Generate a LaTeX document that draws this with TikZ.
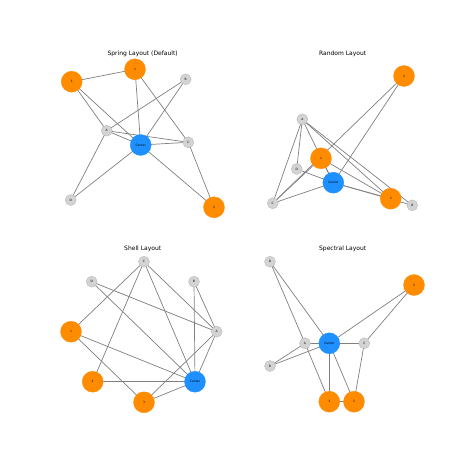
\documentclass[tikz,border=0pt]{standalone}
\usepackage{fontspec}
\setmainfont{DejaVu Sans}
\definecolor{cblue}{HTML}{1E90FF}
\definecolor{corange}{HTML}{FF8C00}
\definecolor{cgray}{HTML}{D3D3D3}
\definecolor{cedge}{HTML}{808080}
\pgfdeclarelayer{bg}
\pgfdeclarelayer{edges}
\pgfsetlayers{bg,edges,main}
\begin{document}
\begin{tikzpicture}[x=1pt,y=-1pt,
  gnode/.style={circle,fill=cgray,draw=cgray!85!black,line width=0.3pt,minimum size=11pt,inner sep=0pt,font=\fontsize{3}{3}\selectfont},
  onode/.style={circle,fill=corange,draw=corange,line width=0.3pt,minimum size=21pt,inner sep=0pt,font=\fontsize{3}{3}\selectfont},
  bnode/.style={circle,fill=cblue,draw=cblue,line width=0.3pt,minimum size=21pt,inner sep=0pt,font=\fontsize{3}{3}\selectfont},
  ttl/.style={font=\fontsize{6}{7}\selectfont,inner sep=0pt},
  edge/.style={draw=cedge,line width=0.7pt}]
\useasboundingbox (0,0) rectangle (474,474);
\begin{pgfonlayer}{bg}
\fill[white] (0,0) rectangle (474,474);
\end{pgfonlayer}
% Spring
\node[ttl] (st) at (142.7,53.8) {Spring Layout (Default)};
\node[bnode] (s-Center) at (140.7,145) {Center};
\node[gnode] (s-A) at (106.7,130.7) {A};
\node[gnode] (s-B) at (185.7,79.3) {B};
\node[gnode] (s-C) at (188.3,142.3) {C};
\node[gnode] (s-D) at (70.7,200) {D};
\node[onode] (s-1) at (135,69.3) {1};
\node[onode] (s-2) at (214,207.3) {2};
\node[onode] (s-3) at (71.7,81.7) {3};
% Random
\node[ttl] (rt) at (342.7,53.8) {Random Layout};
\node[bnode] (r-Center) at (333.3,182.7) {Center};
\node[gnode] (r-A) at (302.3,119.3) {A};
\node[gnode] (r-B) at (412.3,205.3) {B};
\node[gnode] (r-C) at (272.7,203.3) {C};
\node[gnode] (r-D) at (296.7,169) {D};
\node[onode] (r-1) at (321,158.3) {1};
\node[onode] (r-2) at (404,76) {2};
\node[onode] (r-3) at (390.7,198.7) {3};
% Shell
\node[ttl] (ht) at (142.7,248.8) {Shell Layout};
\node[bnode] (h-Center) at (195,381.7) {Center};
\node[gnode] (h-A) at (216.7,331.7) {A};
\node[gnode] (h-B) at (194,281.7) {B};
\node[gnode] (h-C) at (144,261.7) {C};
\node[gnode] (h-D) at (91.7,281.7) {D};
\node[onode] (h-1) at (71,331.7) {1};
\node[onode] (h-2) at (92.7,381.7) {2};
\node[onode] (h-3) at (144,402.3) {3};
% Spectral
\node[ttl] (pt) at (342.7,248.8) {Spectral Layout};
\node[bnode] (p-Center) at (329.3,343.3) {Center};
\node[gnode] (p-A) at (305,343.3) {A};
\node[gnode] (p-B) at (270,366) {B};
\node[gnode] (p-C) at (364.3,343.3) {C};
\node[gnode] (p-D) at (270,261.7) {D};
\node[onode] (p-1) at (354,401.7) {1};
\node[onode] (p-2) at (414,285) {2};
\node[onode] (p-3) at (329.3,401.7) {3};
% Edges (behind the nodes)
\begin{pgfonlayer}{edges}
\foreach \p in {s,r,h,p}{
  \foreach \u/\v in {Center/A,Center/B,Center/C,Center/D,Center/1,Center/2,Center/3,A/B,A/C,A/D,A/3,C/1,C/2,1/3}{
    \draw[edge] (\p-\u.center) -- (\p-\v.center);
  }
}
\end{pgfonlayer}
\end{tikzpicture}
\end{document}
